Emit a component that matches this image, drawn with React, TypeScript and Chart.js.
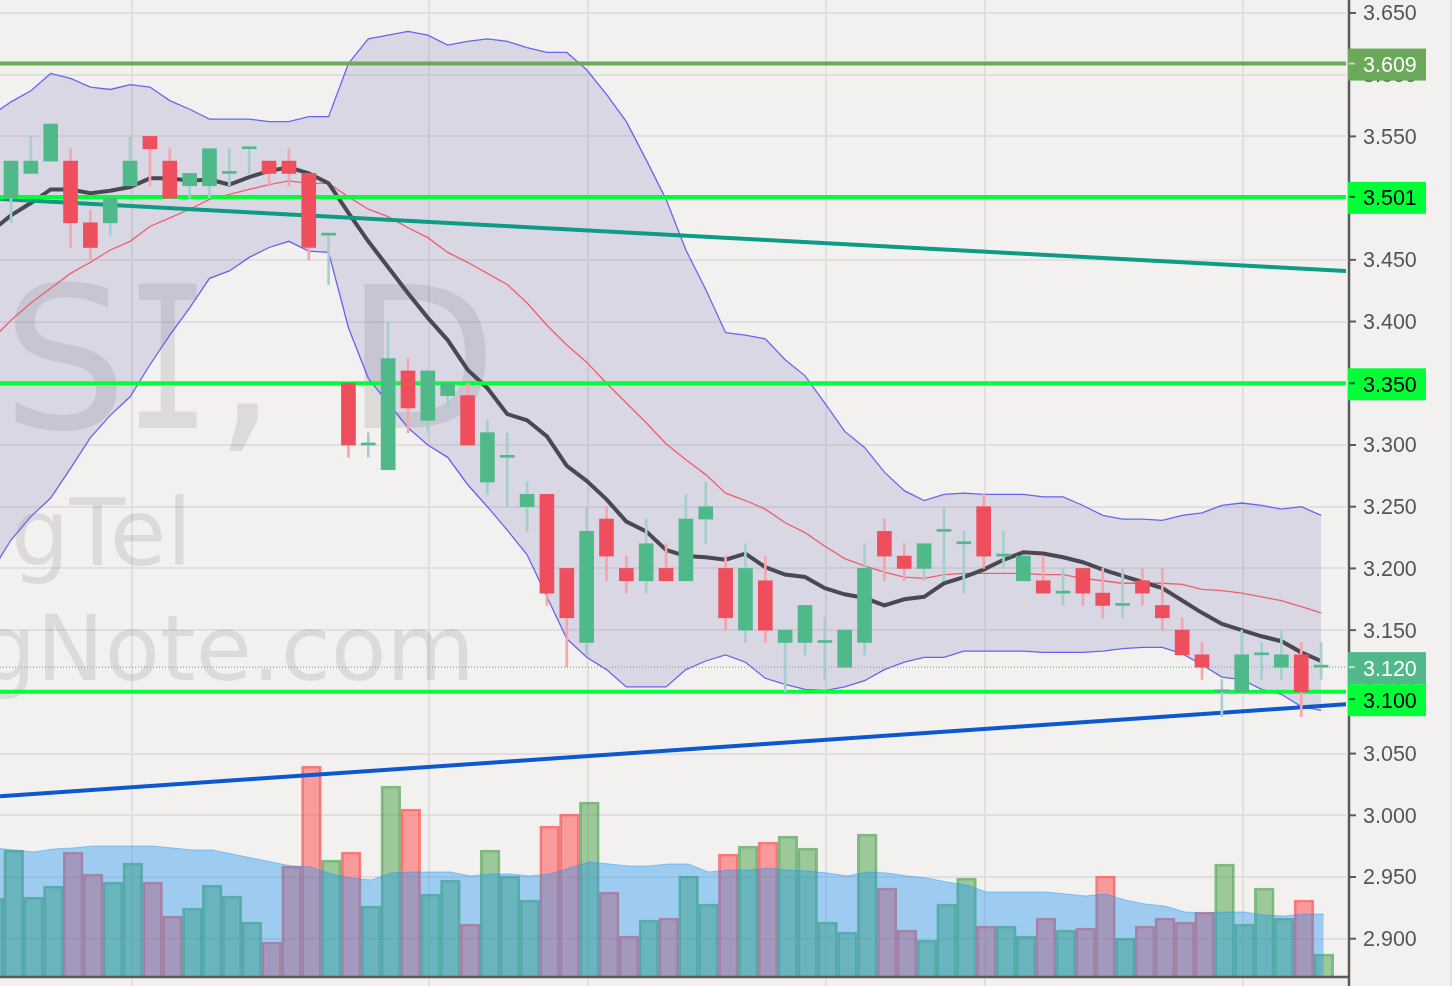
import { useEffect, useRef } from 'react';
import Chart from 'chart.js/auto';

// every series starts one bar before the left edge, so the lines run off the chart
const firstBar = -1;

const opens = [
  3.5, 3.5, 3.52, 3.53, 3.53, 3.48, 3.48, 3.51, 3.55, 3.53, 3.51, 3.51, 3.52, 3.54, 3.53, 3.53, 3.52, 3.47,
  3.35, 3.3, 3.28, 3.36, 3.32, 3.34, 3.34, 3.27, 3.29, 3.25, 3.26, 3.2, 3.14, 3.24, 3.2, 3.19, 3.2, 3.19, 3.24,
  3.2, 3.15, 3.19, 3.14, 3.14, 3.14, 3.12, 3.14, 3.23, 3.21, 3.2, 3.23, 3.22, 3.25, 3.21, 3.19, 3.19, 3.18, 3.2,
  3.18, 3.17, 3.19, 3.17, 3.15, 3.13, 3.1, 3.1, 3.13, 3.12, 3.13, 3.12,
];
const highs = [
  3.51, 3.53, 3.55, 3.56, 3.54, 3.49, 3.5, 3.55, 3.55, 3.54, 3.52, 3.54, 3.54, 3.54, 3.53, 3.54, 3.52, 3.47,
  3.35, 3.31, 3.4, 3.37, 3.36, 3.35, 3.35, 3.32, 3.31, 3.27, 3.26, 3.2, 3.25, 3.25, 3.21, 3.24, 3.22, 3.26, 3.27,
  3.21, 3.22, 3.21, 3.15, 3.17, 3.16, 3.15, 3.22, 3.24, 3.22, 3.22, 3.25, 3.23, 3.26, 3.23, 3.21, 3.21, 3.2, 3.2,
  3.2, 3.2, 3.2, 3.2, 3.16, 3.14, 3.11, 3.15, 3.14, 3.15, 3.14, 3.14,
];
const lows = [
  3.49, 3.48, 3.52, 3.53, 3.46, 3.45, 3.47, 3.51, 3.51, 3.5, 3.5, 3.5, 3.51, 3.52, 3.51, 3.51, 3.45, 3.43,
  3.29, 3.29, 3.28, 3.31, 3.31, 3.33, 3.3, 3.26, 3.25, 3.23, 3.17, 3.12, 3.13, 3.19, 3.18, 3.18, 3.19, 3.19, 3.22,
  3.15, 3.14, 3.14, 3.1, 3.13, 3.11, 3.12, 3.13, 3.19, 3.19, 3.19, 3.19, 3.18, 3.2, 3.2, 3.19, 3.18, 3.17, 3.17,
  3.16, 3.16, 3.17, 3.15, 3.13, 3.11, 3.08, 3.1, 3.11, 3.11, 3.08, 3.11,
];
const closes = [
  3.51, 3.53, 3.53, 3.56, 3.48, 3.46, 3.5, 3.53, 3.54, 3.5, 3.52, 3.54, 3.52, 3.54, 3.52, 3.52, 3.46, 3.47,
  3.3, 3.3, 3.37, 3.33, 3.36, 3.35, 3.3, 3.31, 3.29, 3.26, 3.18, 3.16, 3.23, 3.21, 3.19, 3.22, 3.19, 3.24, 3.25,
  3.16, 3.2, 3.15, 3.15, 3.17, 3.14, 3.15, 3.2, 3.21, 3.2, 3.22, 3.23, 3.22, 3.21, 3.21, 3.21, 3.18, 3.18, 3.18,
  3.17, 3.17, 3.18, 3.16, 3.13, 3.12, 3.1, 3.13, 3.13, 3.13, 3.1, 3.12,
];

const bandUpper = [
  3.567, 3.578, 3.587, 3.601, 3.597, 3.59, 3.588, 3.592, 3.59, 3.579, 3.572, 3.564, 3.564, 3.564, 3.562, 3.562,
  3.566, 3.566, 3.609, 3.629, 3.632, 3.635, 3.632, 3.624, 3.627, 3.629, 3.627, 3.622, 3.618, 3.618, 3.604, 3.584,
  3.562, 3.531, 3.499, 3.458, 3.426, 3.391, 3.389, 3.386, 3.369, 3.356, 3.334, 3.311, 3.298, 3.278, 3.263, 3.255,
  3.26, 3.261, 3.26, 3.26, 3.26, 3.258, 3.258, 3.251, 3.243, 3.24, 3.24, 3.239, 3.243, 3.245, 3.251, 3.253, 3.251,
  3.248, 3.25, 3.243,
];
const bandLower = [
  3.197, 3.223, 3.242, 3.257, 3.281, 3.306, 3.324, 3.339, 3.365, 3.389, 3.411, 3.435, 3.441, 3.452, 3.46, 3.465,
  3.457, 3.456, 3.395, 3.354, 3.334, 3.314, 3.3, 3.29, 3.268, 3.25, 3.231, 3.211, 3.177, 3.143, 3.128, 3.118, 3.104,
  3.104, 3.104, 3.118, 3.125, 3.13, 3.124, 3.111, 3.106, 3.102, 3.101, 3.104, 3.109, 3.118, 3.124, 3.128, 3.128,
  3.133, 3.133, 3.133, 3.133, 3.132, 3.132, 3.132, 3.133, 3.135, 3.136, 3.136, 3.131, 3.122, 3.112, 3.11, 3.102,
  3.098, 3.088, 3.085,
];
const slowAverage = [
  3.385, 3.401, 3.415, 3.427, 3.439, 3.448, 3.458, 3.465, 3.477, 3.484, 3.491, 3.499, 3.503, 3.507, 3.511, 3.514,
  3.512, 3.512, 3.501, 3.491, 3.485, 3.476, 3.468, 3.456, 3.448, 3.439, 3.43, 3.415, 3.397, 3.381, 3.367, 3.35,
  3.334, 3.318, 3.301, 3.288, 3.276, 3.261, 3.255, 3.248, 3.237, 3.229, 3.218, 3.208, 3.202, 3.197, 3.193, 3.192,
  3.195, 3.196, 3.196, 3.196, 3.196, 3.195, 3.195, 3.192, 3.19, 3.188, 3.188, 3.188, 3.187, 3.183, 3.182, 3.18,
  3.177, 3.174, 3.169, 3.164,
];
const fastAverage = [
  3.473, 3.486, 3.496, 3.507, 3.507, 3.504, 3.506, 3.509, 3.516, 3.516, 3.514, 3.515, 3.511, 3.517, 3.522, 3.525,
  3.52, 3.512, 3.488, 3.465, 3.444, 3.423, 3.403, 3.385, 3.361, 3.346, 3.325, 3.32, 3.307, 3.283, 3.271, 3.256,
  3.238, 3.23, 3.215, 3.21, 3.209, 3.207, 3.212, 3.201, 3.195, 3.193, 3.184, 3.179, 3.176, 3.17, 3.175, 3.177,
  3.188, 3.193, 3.199, 3.207, 3.213, 3.212, 3.209, 3.205, 3.199, 3.194, 3.189, 3.184, 3.174, 3.164, 3.155, 3.15,
  3.145, 3.141, 3.132, 3.125,
];

const volumes = [
  78, 126, 79, 90, 124, 102, 94, 113, 94, 60, 68, 91, 80, 54, 34, 110, 210, 116, 124, 70, 190, 167, 82, 96, 52, 126,
  100, 76, 150, 162, 174, 84, 40, 56, 58, 100, 72, 122, 130, 134, 140, 128, 54, 44, 142, 88, 46, 36, 72, 98, 50, 50,
  40, 58, 46, 48, 100, 38, 50, 58, 54, 64, 112, 52, 88, 58, 76, 22,
];
const volumeAverage = [
  128, 126, 124, 127, 128, 130, 130, 130, 130, 128, 126, 126, 122, 118, 114, 110, 109, 102, 98, 96, 103, 104, 104, 104,
  100, 102, 102, 100, 102, 108, 114, 112, 110, 110, 112, 112, 104, 106, 106, 108, 106, 105, 103, 100, 104, 103, 100, 98,
  94, 91, 84, 84, 84, 84, 82, 80, 82, 76, 72, 70, 64, 63, 64, 64, 61, 60, 62, 62,
];

const priceTicks = [2.9, 2.95, 3.0, 3.05, 3.1, 3.15, 3.2, 3.25, 3.3, 3.35, 3.4, 3.45, 3.5, 3.55, 3.6, 3.65];
const dateGridBars = [6, 21, 29, 41, 49, 62];

const levelPrices = [3.609, 3.501, 3.35, 3.12, 3.1];
const levelColors = ['#6aa85a', '#00ff37', '#00ff37', '#51b88b', '#00ff37'];
const levelTextColors = ['#ffffff', '#000000', '#000000', '#ffffff', '#000000'];

const tealTrend = [3.4993, 3.441];
const blueTrend = [3.0155, 3.09];

const watermark = [
  { text: 'S', font: '198px "DejaVu Sans"', x: 2, y: 428, align: 'left', stretch: 1 },
  { text: 'I', font: '198px "DejaVu Sans Mono"', x: 168, y: 428, align: 'center', stretch: 0.72 },
  { text: ',', font: '198px "DejaVu Sans"', x: 214, y: 428, align: 'left', stretch: 1 },
  { text: 'D', font: '198px "DejaVu Sans"', x: 345, y: 428, align: 'left', stretch: 1 },
  { text: 'gTel', font: '92px "DejaVu Sans"', x: 192, y: 565, align: 'right', stretch: 1 },
  { text: 'gNote.com', font: '91px "DejaVu Sans"', x: 475, y: 680, align: 'right', stretch: 1 },
];

const barIndex = opens.map((_, i) => i + firstBar);
const barStep = 19.85;
const plotWidth = 1346;

// x scale bounds for a bar centre sitting at firstCentre px
const xBounds = (firstCentre: number) => ({
  min: -firstCentre / barStep,
  max: (plotWidth - firstCentre) / barStep,
});

const candleX = xBounds(11);
const volumeX = xBounds(13.7);
const gridX = xBounds(12.5);

const isUp = (i: number) => closes[i] >= opens[i];

const chartChrome = {
  id: 'chartChrome',
  beforeDraw(chart: Chart) {
    const { ctx, width, height } = chart;
    ctx.save();
    ctx.fillStyle = '#f2f1ef';
    ctx.fillRect(0, 0, width, height);
    ctx.fillStyle = '#dfe0e4';
    ctx.fillRect(1450, 0, 2, height);
    ctx.restore();
  },
  beforeDatasetsDraw(chart: Chart) {
    const { ctx } = chart;
    ctx.save();
    ctx.fillStyle = 'rgba(0, 0, 0, 0.09)';
    ctx.textBaseline = 'alphabetic';
    watermark.forEach((w) => {
      ctx.save();
      ctx.font = w.font;
      ctx.textAlign = w.align as CanvasTextAlign;
      ctx.translate(w.x, w.y);
      ctx.scale(w.stretch, 1);
      ctx.fillText(w.text, 0, 0);
      ctx.restore();
    });
    ctx.restore();
  },
  afterDraw(chart: Chart) {
    const { ctx, chartArea, height } = chart;
    const yScale = chart.scales.y;
    const axisX = chartArea.right + 3;

    ctx.save();
    ctx.strokeStyle = '#5a5a5a';
    ctx.lineWidth = 2.5;
    ctx.beginPath();
    ctx.moveTo(axisX, 0);
    ctx.lineTo(axisX, height);
    ctx.moveTo(0, chartArea.bottom + 1);
    ctx.lineTo(axisX, chartArea.bottom + 1);
    ctx.stroke();

    ctx.lineWidth = 2;
    priceTicks.forEach((p) => {
      const y = yScale.getPixelForValue(p);
      ctx.beginPath();
      ctx.moveTo(axisX, y);
      ctx.lineTo(axisX + 7, y);
      ctx.stroke();
    });

    // price tags, pushed down when they would overlap the one above
    const boxHeight = 32;
    let lastBottom = -Infinity;
    ctx.font = '21.5px "Liberation Sans"';
    ctx.textAlign = 'left';
    ctx.textBaseline = 'middle';
    levelPrices.forEach((p, i) => {
      const top = Math.max(yScale.getPixelForValue(p) - boxHeight / 2 + 1, lastBottom);
      lastBottom = top + boxHeight;
      ctx.fillStyle = levelColors[i];
      ctx.fillRect(chartArea.right + 2, top, 78, boxHeight);
      ctx.fillStyle = levelTextColors[i];
      ctx.fillText(p.toFixed(3), chartArea.right + 17, top + boxHeight / 2 + 1.5);
      ctx.globalAlpha = 0.6;
      ctx.fillRect(chartArea.right + 3, top + boxHeight / 2 - 2, 6, 2);
      ctx.globalAlpha = 1;
    });
    ctx.restore();
  },
};

const App = () => {
  const chartRef = useRef<HTMLCanvasElement>(null);

  useEffect(() => {
    if (!chartRef.current) return;

    const hLine = (price: number, color: string) => ({
      type: 'line',
      data: [
        { x: candleX.min, y: price },
        { x: candleX.max, y: price },
      ],
      borderColor: color,
      borderWidth: 4,
      pointRadius: 0,
      order: 2,
    });
    const trend = (ends: number[], color: string) => ({
      type: 'line',
      data: [
        { x: candleX.min, y: ends[0] },
        { x: candleX.max, y: ends[1] },
      ],
      borderColor: color,
      borderWidth: 4,
      pointRadius: 0,
      order: 3,
    });
    const series = (values: number[], color: string, width: number, order: number, extra = {}) => ({
      type: 'line',
      data: values.map((y, i) => ({ x: barIndex[i], y })),
      borderColor: color,
      borderWidth: width,
      pointRadius: 0,
      tension: 0,
      order,
      ...extra,
    });

    const chart = new Chart(chartRef.current, {
      type: 'bar',
      data: {
        datasets: [
          {
            label: 'Body',
            data: barIndex.map((x, i) => ({ x, y: [opens[i], closes[i]] })),
            backgroundColor: barIndex.map((_, i) => (isUp(i) ? '#50b98a' : '#ef4f5d')),
            barThickness: 14,
            minBarLength: 2,
            grouped: false,
            order: 0,
          },
          {
            label: 'Wick',
            data: barIndex.map((x, i) => ({ x, y: [lows[i], highs[i]] })),
            backgroundColor: barIndex.map((_, i) => (isUp(i) ? '#a5cfcc' : '#f7a4ad')),
            barThickness: 2,
            grouped: false,
            order: 1,
          },
          hLine(levelPrices[0], '#6aa85a'),
          hLine(levelPrices[1], '#00ff37'),
          hLine(levelPrices[2], '#00ff37'),
          hLine(levelPrices[4], '#00ff37'),
          trend(tealTrend, '#0d9b85'),
          trend(blueTrend, '#0d57cf'),
          {
            type: 'line',
            data: [
              { x: candleX.min, y: levelPrices[3] },
              { x: candleX.max, y: levelPrices[3] },
            ],
            borderColor: '#7cc49c',
            borderWidth: 1.5,
            borderDash: [1, 2],
            pointRadius: 0,
            order: 4,
          },
          series(fastAverage, '#4a4853', 4, 5),
          series(slowAverage, '#ef5f6a', 1.3, 6),
          series(bandUpper, '#6666f0', 1.3, 7, { fill: '+1', backgroundColor: 'rgba(103, 90, 183, 0.17)' }),
          series(bandLower, '#6666f0', 1.3, 7),
          {
            type: 'line',
            data: volumeAverage.map((y, i) => ({ x: barIndex[i], y })),
            xAxisID: 'xVolume',
            yAxisID: 'yVolume',
            borderColor: 'rgba(33, 150, 243, 0.45)',
            borderWidth: 1,
            backgroundColor: 'rgba(33, 150, 243, 0.4)',
            fill: 'origin',
            pointRadius: 0,
            tension: 0,
            order: 8,
          },
          {
            label: 'Volume',
            data: volumes.map((y, i) => ({ x: barIndex[i], y })),
            xAxisID: 'xVolume',
            yAxisID: 'yVolume',
            backgroundColor: barIndex.map((_, i) => (isUp(i) ? 'rgba(70, 160, 70, 0.5)' : 'rgba(255, 70, 70, 0.5)')),
            borderColor: barIndex.map((_, i) => (isUp(i) ? 'rgba(70, 160, 70, 0.65)' : 'rgba(255, 70, 70, 0.68)')),
            borderWidth: 2,
            barThickness: barStep,
            grouped: false,
            order: 9,
          },
        ] as any[],
      },
      options: {
        responsive: false,
        animation: false,
        events: [],
        layout: { padding: 0 },
        plugins: { legend: { display: false }, tooltip: { enabled: false } },
        scales: {
          // bar charts turn offset on by default, which would widen these ranges
          x: { type: 'linear', display: false, offset: false, bounds: 'data', ...candleX },
          xVolume: { type: 'linear', display: false, offset: false, bounds: 'data', ...volumeX },
          xGrid: {
            type: 'linear',
            position: 'bottom',
            offset: false,
            bounds: 'data',
            ...gridX,
            afterBuildTicks: (axis: any) => {
              axis.ticks = dateGridBars.map((value) => ({ value }));
            },
            afterFit: (axis: any) => {
              axis.height = 10;
              axis.paddingLeft = 0;
              axis.paddingRight = 0;
            },
            ticks: { display: false },
            border: { display: false },
            grid: { color: '#e1e0de', lineWidth: 2, tickLength: 10, offset: false },
          },
          y: {
            type: 'linear',
            position: 'right',
            offset: false,
            bounds: 'data',
            min: 2.8698,
            max: 3.6605,
            afterBuildTicks: (axis: any) => {
              axis.ticks = priceTicks.map((value) => ({ value }));
            },
            afterFit: (axis: any) => {
              // keep the plot flush with the canvas top and bottom
              axis.width = 1452 - plotWidth;
              axis.paddingTop = 0;
              axis.paddingBottom = 0;
            },
            ticks: {
              padding: 17,
              labelOffset: 1.5,
              color: '#555555',
              font: { family: '"Liberation Sans"', size: 21.5 },
              callback: (v: any) => Number(v).toFixed(3),
            },
            border: { display: false },
            grid: { color: '#e1e0de', lineWidth: 2, drawTicks: false, offset: false },
          },
          yVolume: { type: 'linear', display: false, offset: false, bounds: 'data', min: 0, max: 976 },
        },
      } as any,
      plugins: [chartChrome],
    });

    return () => {
      chart.destroy();
    };
  }, []);

  return (
    <canvas
      ref={chartRef}
      width={1452}
      height={986}
      style={{ position: 'fixed', left: 0, top: 0, width: 1452, height: 986 }}
    />
  );
};

export default App;
